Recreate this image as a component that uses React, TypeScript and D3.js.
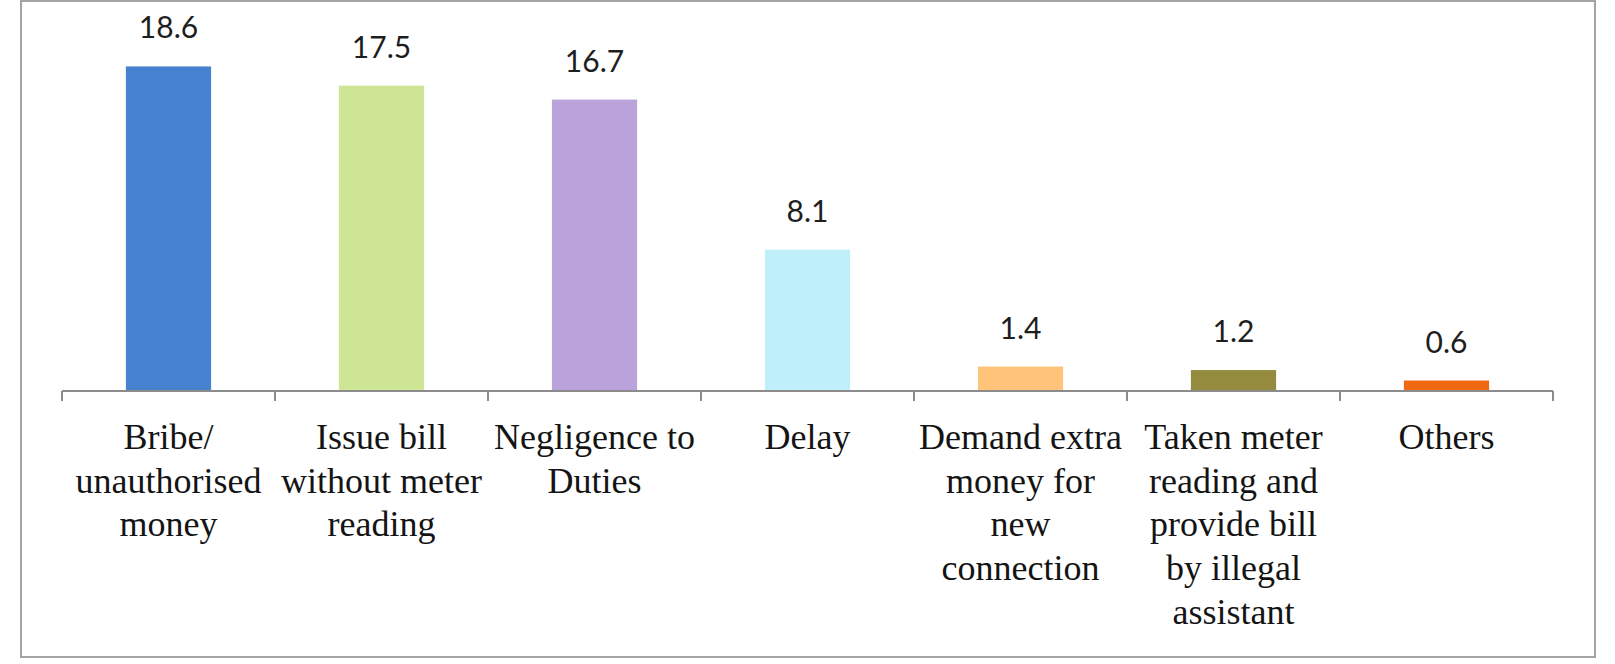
import React from 'react';
import * as d3 from 'd3';

const categories = [
  'Bribe/ unauthorised money',
  'Issue bill without meter reading',
  'Negligence to Duties',
  'Delay',
  'Demand extra money for new connection',
  'Taken meter reading and provide bill by illegal assistant',
  'Others',
];

const labelLines = [
  ['Bribe/', 'unauthorised', 'money'],
  ['Issue bill', 'without meter', 'reading'],
  ['Negligence to', 'Duties'],
  ['Delay'],
  ['Demand extra', 'money for', 'new', 'connection'],
  ['Taken meter', 'reading and', 'provide bill', 'by illegal', 'assistant'],
  ['Others'],
];

const values = [18.6, 17.5, 16.7, 8.1, 1.4, 1.2, 0.6];

const colors = ['#4682d0', '#cde594', '#b9a3da', '#c0effc', '#ffc47a', '#958b3f', '#f06812'];

const W = 1615;
const H = 664;

const App: React.FC = () => {
  const x = d3
    .scaleBand<string>()
    .domain(categories)
    .range([62, 1553])
    .paddingInner(0.6)
    .paddingOuter(0.3);

  const y = d3.scaleLinear().domain([0, 20]).range([391, 42]);

  const step = x.step();
  const boundaries = categories.map((c) => (x(c) ?? 0) - (step * x.paddingInner()) / 2);
  boundaries.push(x.range()[1]);

  return (
    <svg
      width={W}
      height={H}
      style={{ position: 'absolute', left: 0, top: 0, display: 'block', background: '#fff' }}
    >
      <rect x={21} y={1} width={1574} height={656} fill="none" stroke="#a3a3a3" strokeWidth={2} />

      {categories.map((c, i) => (
        <rect
          key={c}
          x={x(c)}
          y={y(values[i])}
          width={x.bandwidth()}
          height={y(0) - y(values[i])}
          fill={colors[i]}
        />
      ))}

      {/* axis */}
      <line x1={x.range()[0]} x2={x.range()[1]} y1={y(0)} y2={y(0)} stroke="#8c8c8c" strokeWidth={2} />
      {boundaries.map((b, i) => (
        <line key={i} x1={b} x2={b} y1={y(0)} y2={y(0) + 10} stroke="#8c8c8c" strokeWidth={2} />
      ))}

      {categories.map((c, i) => (
        <text
          key={'v' + c}
          x={(x(c) ?? 0) + x.bandwidth() / 2}
          y={y(values[i]) - 28}
          textAnchor="middle"
          fontFamily="Lato, 'Open Sans', sans-serif"
          fontSize={30}
          fill="#1e1e1e"
        >
          {values[i].toFixed(1)}
        </text>
      ))}

      {categories.map((c, i) => (
        <text
          key={'l' + c}
          textAnchor="middle"
          fontFamily="'Liberation Serif', 'Times New Roman', serif"
          fontSize={36}
          fill="#141414"
        >
          {labelLines[i].map((line, j) => (
            <tspan key={j} x={(x(c) ?? 0) + x.bandwidth() / 2} y={y(0) + 58 + j * 43.7}>
              {line}
            </tspan>
          ))}
        </text>
      ))}
    </svg>
  );
};

export default App;
